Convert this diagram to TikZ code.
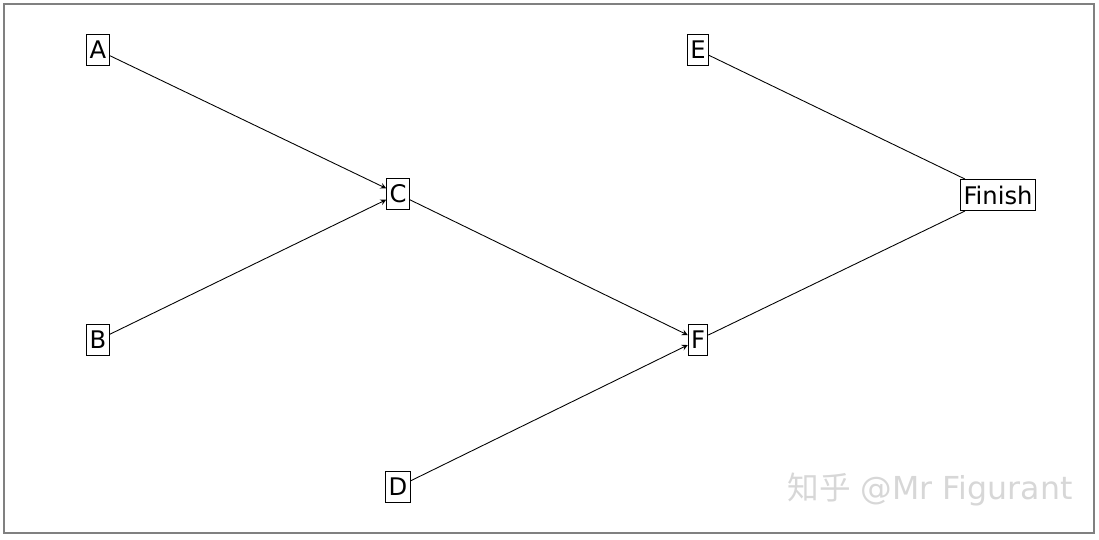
\documentclass[tikz,border=0pt]{standalone}
\usepackage{fontspec}
\setmainfont{DejaVu Sans}
\newfontfamily\cjkfont{Noto Sans CJK SC}
\usetikzlibrary{positioning}
\usetikzlibrary{arrows}
\definecolor{framegray}{RGB}{128,128,128}
\definecolor{markgray}{RGB}{215,215,215}

\begin{document}
\begin{tikzpicture}
    [x=0.02cm,y=-0.02cm,
     task/.style={rectangle,draw,line width=0.5pt,inner xsep=1.6pt,inner ysep=0pt,minimum height=0.62cm,font=\fontsize{13.8}{16}\selectfont},
     edge/.style={line width=0.5pt}]
    \useasboundingbox (0,0) rectangle (1099,539);
    \draw[framegray,line width=1.1pt] (4,4) rectangle (1094,533);
    \node [task] (A) at (98,50) {A};
    \node [task] (B) at (98,340) {B};
    \node [task] (C) at (398,194) {C};
    \node [task] (D) at (398,487) {D};
    \node [task] (E) at (698,50) {E};
    \node [task] (F) at (698,340) {F};
    \node [task] (Finish) at (998,195) {Finish};
    \draw[edge,-stealth] (A) to (C);
    \draw[edge,-stealth] (B) to (C);
    \draw[edge,-stealth] (C) to (F);
    \draw[edge,-stealth] (D) to (F);
    \draw[edge] (E) to (Finish);
    \draw[edge] (F) to (Finish);
    \node [markgray,font=\fontsize{18}{21}\selectfont] (mark) at (930,489) {{\cjkfont 知乎} @Mr Figurant};
\end{tikzpicture}
\end{document}
